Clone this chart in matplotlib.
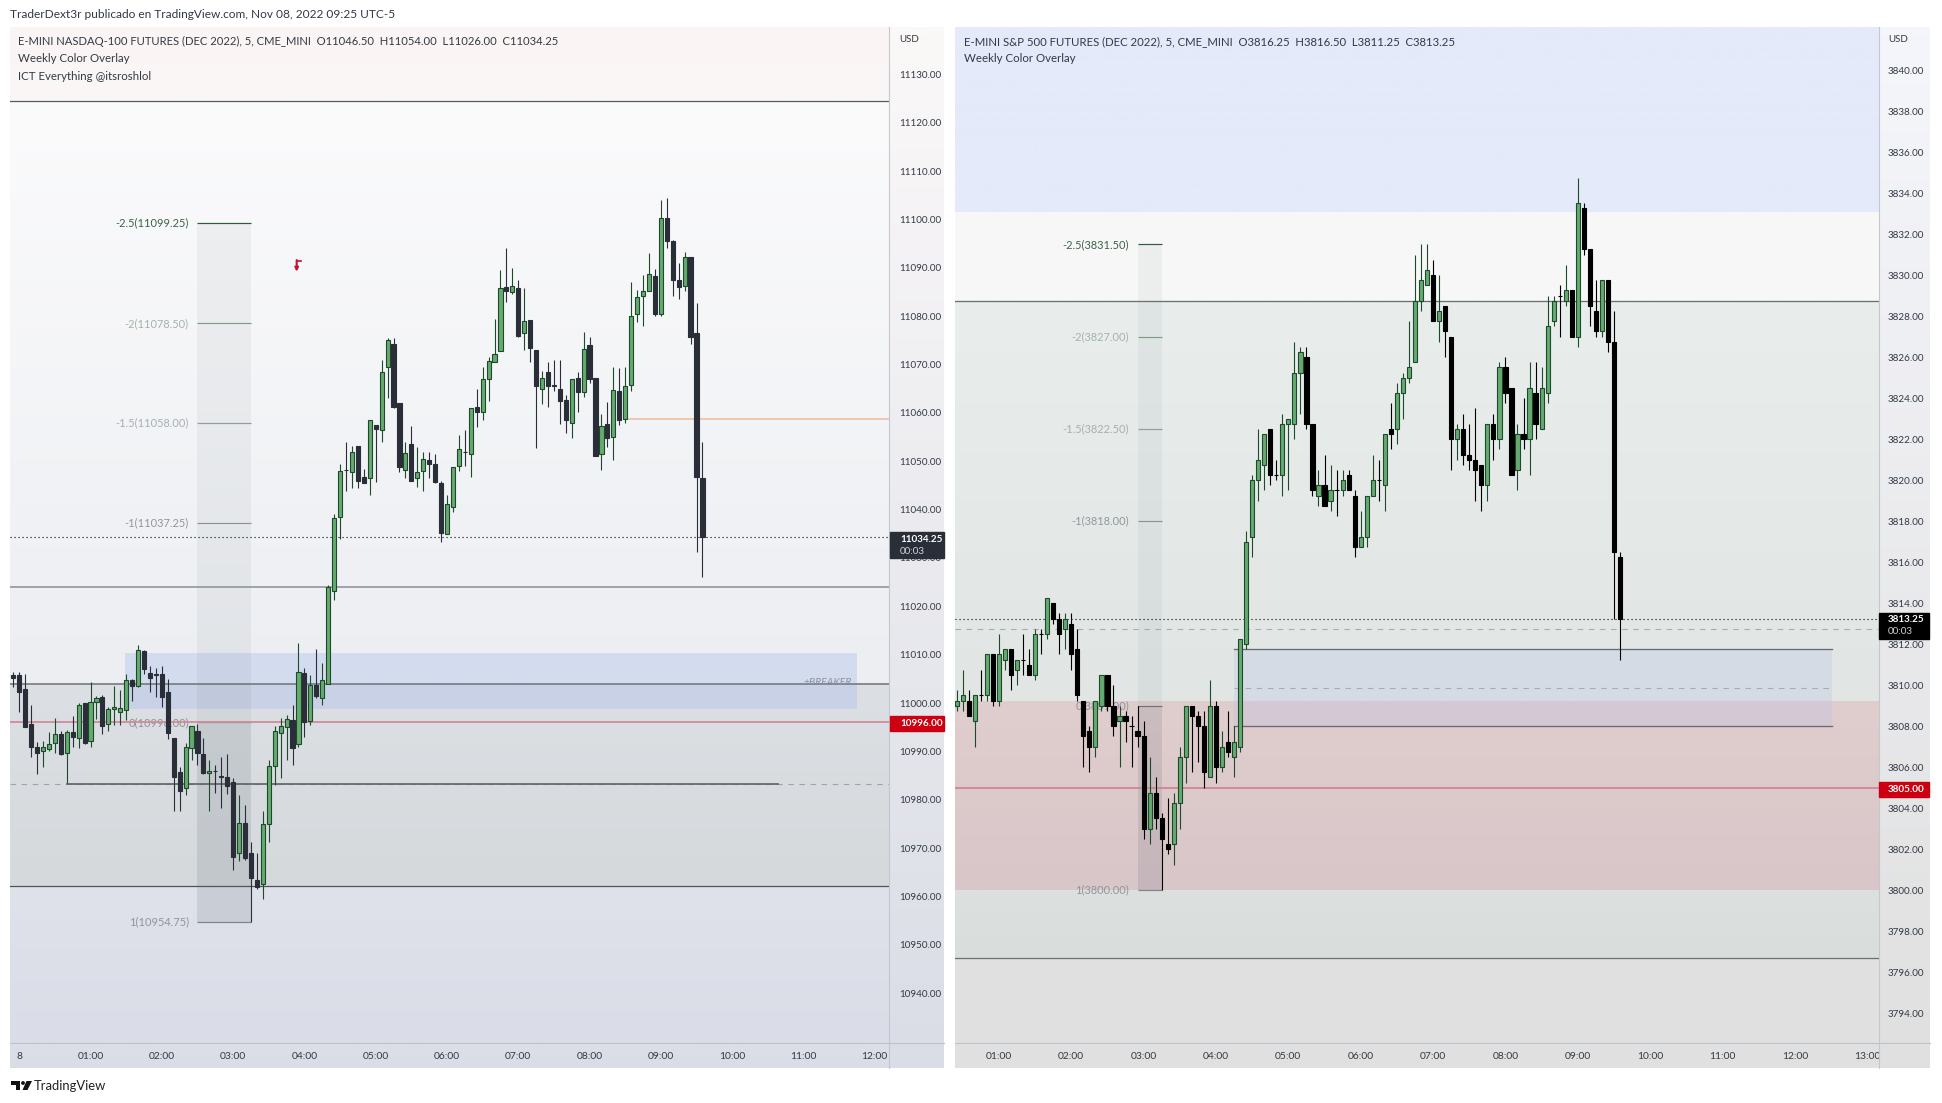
"""Two TradingView 5 minute charts side by side, NQ and ES"""

import numpy as np
import matplotlib
matplotlib.use("Agg")
import matplotlib.pyplot as plt
from matplotlib.colors import to_rgb
from matplotlib.patches import Rectangle, Polygon, Circle

plt.rcParams['font.family'] = ['Lato', 'DejaVu Sans']

W, H = 1942, 1103

# NQ candles
nq_open = [11005.75, 11005.75, 11003, 10995.75, 10991, 10990, 10990.5, 10991.75, 10993.5, 10989.75,
           10994, 10992.75, 11000, 10992.25, 11000.25, 11001.25, 10995.75, 10998.75, 10998.25, 10998.5,
           11004.75, 11003.5, 11010.75, 11006.25, 11006, 11006, 11002.25, 10992.75, 10985.75, 10982.5,
           10990.75, 10994.25, 10989.5, 10985.5, 10986, 10985, 10984.75, 10983.75, 10969, 10975.25,
           10969, 10963.5, 10962.5, 10975, 10987, 10993.75, 10995, 10996.5, 10991.5, 11006.25,
           10996.25, 11003.75, 11001, 11004, 11023.25, 11038.5, 11048.25, 11047.75, 11053.25, 11046.75,
           11046.5, 11057.5, 11056.5, 11069.5, 11074.25, 11062, 11048.25, 11053.5, 11046.5, 11048,
           11050.25, 11049.5, 11045.5, 11035, 11040.5, 11049, 11052, 11051.5, 11061.25, 11060.25,
           11067, 11070.5, 11072.75, 11086, 11085, 11085.75, 11076.5, 11079.25, 11073, 11065,
           11068.5, 11065.75, 11065, 11062.75, 11058, 11067.25, 11064.25, 11074, 11067.25, 11051.5,
           11057.75, 11055, 11064.5, 11058.75, 11065.75, 11080.5, 11084.25, 11085.25, 11088.25, 11080.5,
           11100.25, 11095.5, 11087.5, 11086.25, 11092.25, 11076.5, 11046.5]
nq_high = [11006.5, 11006.5, 11006, 10999.5, 10992, 10992.25, 10994, 10997, 10994.25, 10994.5,
           10997.25, 11000, 11000, 11004.25, 11001.5, 11001.75, 10999.25, 11003.5, 11002.75, 11006,
           11005, 11012, 11011, 11007.75, 11007.25, 11007.75, 11005, 10992.75, 10986.75, 10991.75,
           10995.25, 10995.75, 10992.75, 10988.25, 10987.25, 10988.75, 10989.5, 10984.5, 10981, 10979,
           10971.25, 10969, 10977.75, 10988.25, 10995.25, 10997, 10997.5, 10999.5, 11012.5, 11007.25,
           11005.75, 11011.25, 11008.25, 11024.5, 11039, 11049.5, 11054, 11053.25, 11053.25, 11048.5,
           11058.5, 11057.5, 11071, 11075.5, 11075.5, 11062, 11054, 11057.25, 11053, 11052,
           11052, 11051.5, 11046, 11043, 11048.75, 11055.5, 11056.5, 11061, 11065, 11069.5,
           11071.5, 11079.5, 11089.5, 11094, 11090, 11087.5, 11085.75, 11079.25, 11073, 11068.75,
           11070.5, 11071, 11071, 11063.75, 11067, 11068.5, 11076.75, 11075.75, 11067.25, 11059.75,
           11062.25, 11069.5, 11069.25, 11069.5, 11087, 11085.5, 11088.5, 11093, 11089.75, 11104,
           11104.5, 11095.75, 11091, 11093.25, 11092.25, 11082.75, 11054]
nq_low = [11003.25, 10998.25, 10995, 10988.75, 10985.25, 10986.75, 10990, 10989.75, 10989.25, 10983.5,
          10991, 10990.75, 10991.5, 10991, 10996.75, 10993.5, 10994.25, 10995.5, 10995.5, 10996.5,
          11000.5, 11003.25, 11006, 11002.25, 11001.25, 10999.25, 10992.5, 10977.75, 10977.75, 10981,
          10988.25, 10987.25, 10985.25, 10977.75, 10981.5, 10978.25, 10981.25, 10965.5, 10967.25, 10967.5,
          10954.75, 10961.5, 10959.5, 10971.25, 10983, 10984.5, 10988.25, 10987.25, 10991, 10993,
          10995.5, 11001, 10999.5, 11004, 11021.25, 11034, 11043.75, 11044.5, 11044.5, 11045.5,
          11043, 11045.75, 11054, 11063, 11061, 11047.75, 11046.5, 11046, 11044.75, 11043.75,
          11046.5, 11045.5, 11033.25, 11035, 11039.5, 11048, 11049, 11046.75, 11057, 11058.5,
          11062.5, 11070.5, 11072.75, 11083, 11084.5, 11075.75, 11073, 11070.5, 11052.75, 11061.75,
          11061.25, 11064.5, 11057.75, 11055.75, 11054.75, 11060.25, 11063.25, 11066.25, 11051, 11048.25,
          11053, 11050.25, 11057.5, 11058, 11064.5, 11078.75, 11078, 11085.25, 11080, 11080,
          11094, 11084.25, 11083.5, 11085.25, 11074.25, 11031.25, 11026]
nq_close = [11005.25, 11002.25, 10995, 10991, 10989.75, 10991, 10991.5, 10993.5, 10989.5, 10994,
            10993, 10999.5, 10991.75, 11000.25, 11001, 10995.25, 10998.75, 10999.25, 10999, 11004.75,
            11003.5, 11011, 11007, 11005.25, 11005.75, 11001.25, 10993.75, 10984.75, 10981.75, 10991,
            10995.25, 10989.75, 10985.5, 10986, 10986, 10984.75, 10982.75, 10968.25, 10975.25, 10968,
            10963.75, 10962, 10975, 10987, 10994.25, 10995.25, 10996.75, 10990.75, 11006.5, 10996,
            11003.75, 11001.5, 11004.75, 11024, 11038.25, 11048, 11048.25, 11052, 11046, 11045.5,
            11058.5, 11056.75, 11068.5, 11075, 11061.25, 11048.75, 11051.75, 11046, 11047.75, 11050.5,
            11049.5, 11045.75, 11035.25, 11041.25, 11048.75, 11052.5, 11052, 11061, 11060.25, 11067,
            11070.75, 11072.25, 11085.75, 11085.25, 11086.25, 11076, 11079, 11073.5, 11065.5, 11067.25,
            11065.5, 11065.5, 11062.5, 11058.5, 11067, 11064.25, 11073.25, 11067, 11051, 11057.25,
            11054.75, 11064.75, 11058.5, 11065.5, 11080, 11084, 11085.25, 11088.75, 11080.5, 11100.25,
            11095.5, 11087.5, 11086, 11092.25, 11075.75, 11046.75, 11034.25]

# ES candles
es_open = [3809, 3809.25, 3809.25, 3808.25, 3809.5, 3809.5, 3811.5, 3809.25, 3811.25, 3811.75,
           3810.75, 3811.25, 3811, 3810.5, 3812.5, 3812.5, 3814, 3813.25, 3812.75, 3813,
           3811.75, 3809.25, 3807.75, 3807, 3809, 3810.5, 3809, 3808.25, 3808.5, 3808,
           3807.75, 3807.5, 3803, 3804.75, 3803.5, 3802.25, 3802.25, 3804.25, 3806.5, 3809,
           3808.5, 3808, 3805.5, 3809, 3806, 3807.25, 3806.5, 3807, 3812, 3817.25,
           3820, 3820.75, 3822.5, 3820.25, 3820.25, 3822.75, 3822.75, 3825.25, 3826, 3822.75,
           3819.25, 3819.75, 3819, 3819.5, 3819.5, 3820.25, 3819.25, 3816.75, 3817.25, 3819.25,
           3820, 3819.75, 3822.5, 3822.5, 3824.25, 3825, 3825.75, 3828.75, 3829.5, 3830,
           3827.75, 3828.5, 3827, 3822, 3822.5, 3821.25, 3821, 3820.75, 3819.75, 3822.75,
           3822, 3825.5, 3824.5, 3820.5, 3822.25, 3822, 3824.25, 3822.5, 3824.25, 3827.75,
           3829, 3828.75, 3829.25, 3827, 3833.25, 3831.25, 3828.25, 3827.25, 3829.75, 3826.75,
           3816.25]
es_high = [3809.75, 3810.75, 3809.75, 3809.5, 3810.75, 3811.5, 3811.5, 3812.5, 3811.75, 3811.75,
           3811.25, 3812.5, 3811.75, 3812.75, 3812.75, 3814.25, 3814, 3813.5, 3813.5, 3813.5,
           3812.75, 3809.25, 3808, 3809.25, 3810.5, 3810.5, 3810, 3809, 3808.75, 3808.5,
           3809, 3808.25, 3806.5, 3805.5, 3803.75, 3804.5, 3804.75, 3807, 3809, 3809,
           3808.75, 3808.75, 3810.25, 3809.25, 3807.75, 3808.75, 3808, 3812.25, 3817.5, 3820.25,
           3822.5, 3822.25, 3822.5, 3821, 3823.25, 3823, 3826.75, 3826.5, 3826.5, 3822.75,
           3820.5, 3821.25, 3820.75, 3820.5, 3820.5, 3820.5, 3819.5, 3818.5, 3819.25, 3821.25,
           3821, 3822.25, 3823.75, 3824.75, 3825.25, 3827.75, 3831, 3831.5, 3831.5, 3830.75,
           3830, 3828.5, 3827, 3822.75, 3823.25, 3822.75, 3823.5, 3820.75, 3822.75, 3823.25,
           3825.75, 3826, 3824.5, 3822.75, 3824, 3825.75, 3825.75, 3825.5, 3829, 3829,
           3829.5, 3830.5, 3829.25, 3834.75, 3833.5, 3831.25, 3829.75, 3829.75, 3829.75, 3828.25,
           3816.5]
es_low = [3808.75, 3808.75, 3808.5, 3807, 3809.25, 3809.25, 3809, 3809, 3810.75, 3809.75,
          3810, 3810.5, 3810.5, 3810.25, 3811.5, 3812.25, 3813, 3811.5, 3811.75, 3810.75,
          3809.25, 3806, 3805.75, 3806.5, 3808.75, 3808.75, 3807.5, 3806, 3807.25, 3806,
          3807, 3802.5, 3802.25, 3803, 3800, 3801.75, 3801.25, 3803, 3805.25, 3805.75,
          3806.25, 3805, 3805.5, 3805.25, 3805.75, 3806.5, 3805.5, 3806.75, 3811.75, 3816.25,
          3819, 3819.5, 3819.75, 3820, 3819.25, 3819.5, 3822, 3823.25, 3822.5, 3819.25,
          3818.75, 3818.75, 3818.5, 3818.25, 3819.25, 3819.5, 3816.25, 3816.75, 3816.75, 3819.25,
          3819, 3818.5, 3821.5, 3821.75, 3823, 3824.75, 3825.75, 3828.25, 3829.5, 3827.75,
          3826.75, 3826, 3820.5, 3821, 3820.75, 3820.5, 3819, 3818.5, 3819, 3821,
          3821.5, 3823.75, 3820.25, 3819.5, 3821.5, 3820.25, 3822, 3822.5, 3823.75, 3827.5,
          3827, 3828.5, 3827, 3826.5, 3831, 3827.5, 3827, 3827, 3826.25, 3813.25,
          3811.25]
es_close = [3809.25, 3809.5, 3808.5, 3809.5, 3809.5, 3811.5, 3809.25, 3811.5, 3811.75, 3810.5,
            3811.25, 3811.25, 3810.5, 3812.5, 3812.5, 3814.25, 3813.25, 3812.5, 3813.25, 3811.5,
            3809.5, 3807.5, 3807, 3809.25, 3810.5, 3809, 3808, 3808.5, 3808.25, 3808,
            3807.5, 3803, 3804.75, 3803.5, 3802.5, 3802, 3804.25, 3806.5, 3809, 3808.5,
            3808, 3805.75, 3809, 3806, 3807, 3806.75, 3807.25, 3812.25, 3817, 3820,
            3821, 3822.25, 3820.25, 3820.25, 3822.75, 3823, 3825.25, 3826.25, 3822.75, 3819.5,
            3819.75, 3818.75, 3819.5, 3819.5, 3820, 3819.5, 3816.75, 3817.25, 3819.25, 3820,
            3820, 3822.25, 3822.25, 3824.25, 3825, 3825.5, 3828.75, 3829.75, 3830.25, 3827.75,
            3828.25, 3827.25, 3822, 3822.5, 3821.25, 3821, 3820.5, 3819.75, 3822.75, 3822,
            3825.5, 3824.25, 3820.25, 3822.25, 3822, 3824.5, 3822.75, 3824.5, 3827.5, 3828.75,
            3829, 3829.25, 3827, 3833.5, 3831.25, 3828.5, 3827.25, 3829.75, 3826.75, 3816.5,
            3813.25]

# price axis and time axis labels
nq_ticks = list(range(10940, 11131, 10))
es_ticks = list(range(3794, 3841, 2))
nq_times = ["8", "01:00", "02:00", "03:00", "04:00", "05:00", "06:00", "07:00", "08:00", "09:00", "10:00", "11:00", "12:00"]
es_times = ["01:00", "02:00", "03:00", "04:00", "05:00", "06:00", "07:00", "08:00", "09:00", "10:00", "11:00", "12:00", "13:00"]

# fib levels drawn on the opening range
nq_fib_names = ["-2.5", "-2", "-1.5", "-1", "0", "1"]
nq_fib_prices = [11099.25, 11078.50, 11058.00, 11037.25, 10996.00, 10954.75]
es_fib_names = ["-2.5", "-2", "-1.5", "-1", "0", "1"]
es_fib_prices = [3831.50, 3827.00, 3822.50, 3818.00, 3809.00, 3800.00]

DARK_NQ = "#2a2e39"
DARK_ES = "#000000"
GREEN = "#66aa70"
GREEN_EDGE = "#1d4a2a"
FIB_COLORS = ["#2f5a3c", "#7e9a86", "#8f9ea0", "#8a9498", "#6e7276", "#7c8488"]
FIB_TEXT = ["#3d6148", "#a3b3a8", "#a6afb1", "#8f979b", "#8e9296", "#8f959a"]
TEXT = "#333a44"


def px_box(left, right, top, bottom):
    return [left / W, 1 - bottom / H, (right - left) / W, (bottom - top) / H]


def gradient(ax, x0, x1, y_top, y_bot, c_top, c_bot, zorder=0):
    n = 64
    a, b = np.array(to_rgb(c_top)), np.array(to_rgb(c_bot))
    t = np.linspace(0, 1, n)[:, None, None]
    img = a[None, None, :] * (1 - t) + b[None, None, :] * t
    ax.imshow(img, extent=[x0, x1, y_bot, y_top], aspect='auto', zorder=zorder,
              interpolation='bilinear', origin='upper')


def draw_candles(ax, o, h, l, c, dark, width=0.7):
    o, h, l, c = map(np.array, (o, h, l, c))
    x = np.arange(len(o))
    up = c > o
    ax.vlines(x[up], l[up], h[up], color=GREEN_EDGE, lw=0.8, zorder=4)
    ax.vlines(x[~up], l[~up], h[~up], color=dark, lw=0.8, zorder=4)
    bot = np.minimum(o, c)
    ax.bar(x[up], (c - o)[up], bottom=bot[up], width=width, facecolor=GREEN,
           edgecolor=GREEN_EDGE, linewidth=0.8, zorder=5)
    ax.bar(x[~up], (o - c)[~up], bottom=bot[~up], width=width, facecolor=dark,
           edgecolor=dark, linewidth=0.8, zorder=5)


def draw_fib(ax, names, prices, x0, x1):
    zero = prices[4]
    ax.fill_between([x0, x1], prices[0], zero, color="#55666a", alpha=0.065, lw=0, zorder=2)
    ax.fill_between([x0, x1], zero, prices[5], color="#4a5a66", alpha=0.14, lw=0, zorder=2)
    for name, p, col, tcol in zip(names, prices, FIB_COLORS, FIB_TEXT):
        ax.plot([x0, x1], [p, p], color=col, lw=0.85, zorder=3, solid_capstyle='butt')
        ax.annotate(f"{name}({p:.2f})", (x0, p), xytext=(-6.2, 0), textcoords='offset points',
                    ha='right', va='center', fontsize=7.9, color=tcol, zorder=3)


def style_axes(ax, ticks, xticks, xlabels, pad_y):
    ax.patch.set_alpha(0)
    ax.yaxis.tick_right()
    ax.set_yticks(ticks)
    ax.set_yticklabels([f"{t:.2f}" for t in ticks])
    ax.set_xticks(xticks)
    ax.set_xticklabels(xlabels)
    ax.tick_params(axis='y', length=0, pad=pad_y, labelsize=7.1, labelcolor=TEXT)
    ax.tick_params(axis='x', length=0, pad=6.5, labelsize=7.4, labelcolor=TEXT)
    for s in ax.spines.values():
        s.set_visible(False)


fig = plt.figure(figsize=(W / 100, H / 100), dpi=100, facecolor="white")

# backdrop for the axis strips
bg = fig.add_axes([0, 0, 1, 1], zorder=0)
gradient(bg, 889, 944, 27, 1068, "#fbf8f8", "#dadde6")
gradient(bg, 10, 889, 1043, 1068, "#dcdfe7", "#dadde6")
gradient(bg, 1879, 1930, 27, 1068, "#f5f6fb", "#e0e0e0")
gradient(bg, 955, 1879, 1043, 1068, "#e1e1e1", "#e0e0e0")
bg.set_xlim(0, W)
bg.set_ylim(H, 0)
bg.axis('off')

# NQ panel
ax1 = fig.add_axes(px_box(10, 889, 27, 1043), zorder=1)
nq_xlim = (-0.556, 147.4)
nq_ylim = (10929.7, 11139.8)
gradient(ax1, *nq_xlim, 11139.8, 11124.5, "#faf5f4", "#fbf7f6")
gradient(ax1, *nq_xlim, 11124.5, 11004, "#fbfbfc", "#eceef2")
gradient(ax1, *nq_xlim, 11004, 10962, "#dcdfe3", "#d5d9dc")
gradient(ax1, *nq_xlim, 10962, 10929.7, "#dfe2ea", "#dadde7")
ax1.fill_between([18.8, 142], 10998.75, 11010.3, color="#a8bcec", alpha=0.36, lw=0, zorder=1)
draw_fib(ax1, nq_fib_names, nq_fib_prices, 31, 40)
for p, col, lw in [(11124.5, "#555a60", 0.9), (11024, "#8a8e94", 1.1), (11003.9, "#6e7378", 1.1), (10962.1, "#50555a", 0.9)]:
    ax1.axhline(p, color=col, lw=lw, zorder=3)
ax1.axhline(10996, color="#d08c98", lw=1.3, zorder=3)
ax1.axhline(10983.25, color="#a0a4a8", lw=0.8, ls=(0, (5, 5)), zorder=3)
ax1.plot([9, 128.7], [10983.25, 10983.25], color="#62666b", lw=1.25, zorder=3)
ax1.plot([103, nq_xlim[1]], [11058.75, 11058.75], color="#f2c3ab", lw=1.3, zorder=3)
ax1.axhline(nq_close[-1], color="#000000", lw=0.8, ls=(0, (1, 2.6)), zorder=3)
ax1.text(141.2, 11004.2, "+BREAKER", style='italic', fontsize=7.5, color="#8c91a0", ha='right', va='center', zorder=3)
ax1.annotate("", xy=(47.7, 11089.2), xytext=(47.7, 11091.6),
             arrowprops=dict(arrowstyle='-|>', color="#c8102e", lw=1.5, mutation_scale=5, shrinkA=0, shrinkB=0), zorder=6)
ax1.plot([47.7, 48.5], [11091.5, 11091.5], color="#c8102e", lw=1.2, zorder=6)
draw_candles(ax1, nq_open, nq_high, nq_low, nq_close, DARK_NQ)
style_axes(ax1, nq_ticks, [1 + 12 * i for i in range(len(nq_times))], nq_times, 7.2)
ax1.set_xlim(*nq_xlim)
ax1.set_ylim(*nq_ylim)

# ES panel
ax2 = fig.add_axes(px_box(955, 1879, 27, 1043), zorder=1)
es_xlim = (-0.28, 152.95)
es_ylim = (3792.55, 3842.1)
gradient(ax2, *es_xlim, 3842.1, 3833.05, "#e4eafa", "#e4eafa")
gradient(ax2, *es_xlim, 3833.05, 3828.75, "#f8f8f8", "#f7f7f7")
gradient(ax2, *es_xlim, 3828.75, 3809.2, "#e9eeed", "#e1e6e5")
gradient(ax2, *es_xlim, 3809.2, 3800, "#e0cdce", "#d9c6c8")
gradient(ax2, *es_xlim, 3800, 3796.7, "#dce1e0", "#d9dedd")
gradient(ax2, *es_xlim, 3796.7, 3792.55, "#e1e1e1", "#e0e0e0")
ax2.fill_between([46, 145.2], 3808, 3811.75, color="#b4c0e8", alpha=0.27, lw=0, zorder=1)
draw_fib(ax2, es_fib_names, es_fib_prices, 30, 34)
for p in (3828.75, 3796.7):
    ax2.axhline(p, color="#6b7074", lw=0.95, zorder=3)
ax2.axhline(3805, color="#cf808a", lw=1.2, zorder=3)
ax2.axhline(3812.75, color="#a8acb0", lw=0.8, ls=(0, (5, 5)), zorder=3)
ax2.plot([46, 145.2], [3811.75, 3811.75], color="#666b70", lw=0.95, zorder=3)
ax2.plot([46, 145.2], [3808, 3808], color="#666b70", lw=0.95, zorder=3)
ax2.plot([46, 145.2], [3809.85, 3809.85], color="#a8acb0", lw=0.8, ls=(0, (5, 5)), zorder=3)
ax2.plot([46, 46], [3807, 3808], color="#333333", lw=0.7, zorder=3)
ax2.plot([30, 30], [3807.75, 3809], color="#333333", lw=0.7, zorder=3)
ax2.axhline(es_close[-1], color="#000000", lw=0.8, ls=(0, (1, 2.6)), zorder=3)
draw_candles(ax2, es_open, es_high, es_low, es_close, DARK_ES)
style_axes(ax2, es_ticks, [7 + 12 * i for i in range(len(es_times))], es_times, 6.5)
ax2.set_xlim(*es_xlim)
ax2.set_ylim(*es_ylim)

# texts, tags, borders, in pixel coords
top = fig.add_axes([0, 0, 1, 1], zorder=2)
top.set_xlim(0, W)
top.set_ylim(H, 0)
top.axis('off')
top.patch.set_alpha(0)

for x0, x1, xs in [(10, 944, 889), (955, 1930, 1879)]:
    top.plot([x0, x1], [1043, 1043], color="#bcc1ca", lw=0.8)
    top.plot([xs, xs], [27, 1068], color="#c3c7ce", lw=0.8)

top.text(10, 15, "TraderDext3r publicado en TradingView.com, Nov 08, 2022 09:25 UTC-5",
         fontsize=8.55, color=TEXT, va='center')
top.text(18, 41.5, "E-MINI NASDAQ-100 FUTURES (DEC 2022), 5, CME_MINI  O11046.50  H11054.00  L11026.00  C11034.25",
         fontsize=8.15, color=TEXT, va='center')
top.text(18, 59, "Weekly Color Overlay", fontsize=8.3, color=TEXT, va='center')
top.text(18, 76, "ICT Everything @itsroshlol", fontsize=8.3, color=TEXT, va='center')
top.text(963.5, 41.5, "E-MINI S&P 500 FUTURES (DEC 2022), 5, CME_MINI  O3816.25  H3816.50  L3811.25  C3813.25",
         fontsize=8.2, color=TEXT, va='center')
top.text(963.5, 59, "Weekly Color Overlay", fontsize=8.3, color=TEXT, va='center')
top.text(899, 40, "USD", fontsize=7, color=TEXT, va='center')
top.text(1888, 40, "USD", fontsize=7, color=TEXT, va='center')

# price tags
top.add_patch(Rectangle((890, 531.7), 54, 26, color=DARK_NQ, zorder=5))
top.text(900, 539, f"{nq_close[-1]:.2f}", color="white", fontsize=7.1, fontweight='bold', va='center', zorder=6)
top.text(900, 551, "00:03", color="#d0d2d6", fontsize=7.1, va='center', zorder=6)
top.add_patch(Rectangle((890, 716), 54, 14.7, color="#cc0011", zorder=5))
top.text(900, 723.4, f"{nq_fib_prices[4]:.2f}", color="white", fontsize=7.1, fontweight='bold', va='center', zorder=6)
top.add_patch(Rectangle((1879, 612.7), 50, 26, color=DARK_ES, zorder=5))
top.text(1888, 620, f"{es_close[-1]:.2f}", color="white", fontsize=7.1, fontweight='bold', va='center', zorder=6)
top.text(1888, 632, "00:03", color="#d0d0d0", fontsize=7.1, va='center', zorder=6)
top.add_patch(Rectangle((1879, 782), 50, 14.7, color="#cc0011", zorder=5))
top.text(1888, 789.4, "3805.00", color="white", fontsize=7.1, fontweight='bold', va='center', zorder=6)

# TradingView logo
top.add_patch(Polygon([(11, 1081), (20, 1081), (20, 1090), (15.5, 1090), (15.5, 1085), (11, 1085)], color="#111111", lw=0))
top.add_patch(Circle((23, 1083), 1.9, color="#111111", lw=0))
top.add_patch(Polygon([(26.5, 1081), (32, 1081), (27.5, 1090), (22.5, 1090)], color="#111111", lw=0))
top.text(34, 1085.5, "TradingView", fontsize=9.4, color="#222222", va='center')

fig.savefig("out.png", dpi=100, facecolor="white")
